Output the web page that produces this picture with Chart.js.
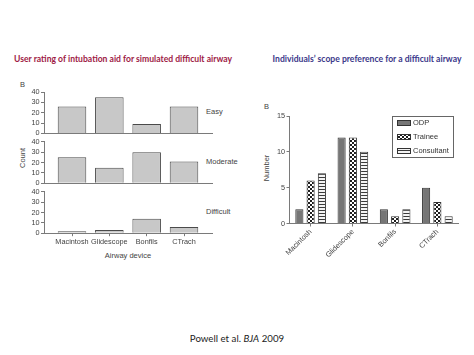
<!DOCTYPE html>
<html><head><meta charset="utf-8">
<script src="https://cdn.jsdelivr.net/npm/chart.js@4.4.0/dist/chart.umd.min.js"></script>
<style>
html,body{margin:0;padding:0;background:#fff;}
body{width:474px;height:355px;position:relative;overflow:hidden;font-family:"Liberation Sans",Arial,sans-serif;}
canvas.layer{position:absolute;left:0;top:0;}
.t{position:absolute;white-space:nowrap;line-height:1;}
.c{transform:translate(-50%,-50%);}
.l{transform:translate(0,-50%);}
.r90{transform:translate(-50%,-50%) rotate(-90deg);}
.title{font-family:Lato,"Open Sans",sans-serif;font-weight:700;font-size:8.6px;}
.ax{font-size:7.5px;color:#444;}
</style></head><body>
<div class="t c title" style="left:123px;top:59px;color:#9e1a45;">User rating of intubation aid for simulated difficult airway</div>
<div class="t c title" style="left:367px;top:59px;color:#3b388a;">Individuals’ scope preference for a difficult airway</div>
<div class="t l ax" style="left:20px;top:85px;">B</div>
<div class="t l ax" style="left:264px;top:107px;">B</div>
<div class="t r90 ax" style="left:23px;top:158px;">Count</div>
<div class="t c ax" style="left:128px;top:256px;">Airway device</div>
<div class="t r90 ax" style="left:267px;top:168px;">Number</div>
<div class="t l ax" id="pl0" style="left:206px;top:112px;"></div>
<div class="t l ax" id="pl1" style="left:206px;top:162px;"></div>
<div class="t l ax" id="pl2" style="left:206px;top:212px;"></div>
<div class="t c" style="left:237px;top:339px;font-family:Lato,sans-serif;font-size:9.7px;color:#222;">Powell et al. <i>BJA</i> 2009</div>
<canvas class="layer" id="p0" width="474" height="355"></canvas>
<canvas class="layer" id="p1" width="474" height="355"></canvas>
<canvas class="layer" id="p2" width="474" height="355"></canvas>
<canvas class="layer" id="pr" width="474" height="355"></canvas>
<script>
const categories = ['Macintosh', 'Glidescope', 'Bonfils', 'CTrach'];
const easyCounts = [26, 35, 9, 26];
const moderateCounts = [25, 15, 30, 21];
const difficultCounts = [2, 3, 14, 6];
const panelLabels = ['Easy', 'Moderate', 'Difficult'];
const countTicks = [0, 10, 20, 30, 40];
const groups = ['ODP', 'Trainee', 'Consultant'];
const odpValues = [2, 12, 2, 5];
const traineeValues = [6, 12, 1, 3];
const consultantValues = [7, 10, 2, 1];
const numberTicks = [0, 5, 10, 15];

panelLabels.forEach((t, i) => { document.getElementById('pl' + i).textContent = t; });

const FONT = 'Liberation Sans';
const AXC = '#7a7a7a';
const TXC = '#444';

function leftPanel(id, values, top, bottom, showLabels) {
  const xh = showLabels ? 14 : 1;
  return new Chart(document.getElementById(id), {
    type: 'bar',
    data: { datasets: [{
      data: values.map((v, i) => ({ x: i, y: v })),
      backgroundColor: '#c8c8c8', borderColor: '#4a4a4a', borderWidth: 1,
      categoryPercentage: 1, barPercentage: 0.765
    }] },
    options: {
      responsive: false, animation: false, events: [],
      layout: { padding: { left: 44 - 30, right: 474 - 212, top: top, bottom: 355 - bottom - xh } },
      plugins: { legend: { display: false }, tooltip: { enabled: false } },
      scales: {
        x: {
          type: 'linear', min: -0.75, max: 3.75, offset: false,
          afterBuildTicks: s => { s.ticks = categories.map((c, i) => ({ value: i })); },
          afterFit: s => { s.height = xh; },
          grid: { display: true, offset: false, drawOnChartArea: false, drawTicks: showLabels, tickLength: 3, color: AXC },
          border: { display: true, color: AXC, width: 1 },
          ticks: { display: showLabels, autoSkip: false, maxRotation: 0, padding: 1.5, color: TXC,
                   font: { family: FONT, size: 7.3 }, callback: v => categories[v] }
        },
        y: {
          min: 0, max: 40,
          afterBuildTicks: s => { s.ticks = countTicks.map(v => ({ value: v })); },
          afterFit: s => { s.width = 30; },
          grid: { drawOnChartArea: false, tickLength: 3, color: AXC },
          border: { display: true, color: AXC, width: 1 },
          ticks: { autoSkip: false, padding: 1.5, color: TXC, font: { family: FONT, size: 7.3 } }
        }
      }
    }
  });
}

leftPanel('p0', easyCounts, 92, 133.4, false);
leftPanel('p1', moderateCounts, 141.8, 183.2, false);
leftPanel('p2', difficultCounts, 191.8, 233.2, true);

function makeTile(w, h, draw) {
  const c = document.createElement('canvas'); c.width = w; c.height = h;
  const x = c.getContext('2d'); draw(x, w, h);
  return document.getElementById('pr').getContext('2d').createPattern(c, 'repeat');
}
const odpFill = '#767676';
const traineeFill = makeTile(4, 4, (x) => {
  x.fillStyle = '#1e1e1e'; x.fillRect(0, 0, 4, 4);
  x.fillStyle = '#ffffff'; x.fillRect(0, 0, 2, 2); x.fillRect(2, 2, 2, 2);
});
const consultantFill = makeTile(3, 3, (x) => {
  x.fillStyle = '#f4f4f4'; x.fillRect(0, 0, 3, 3);
  x.fillStyle = '#3a3a3a'; x.fillRect(0, 0, 3, 1);
});
const fills = [odpFill, traineeFill, consultantFill];

const legendBox = {
  id: 'legendBox',
  afterDraw(chart) {
    const { ctx, chartArea: a } = chart;
    const w = 61, h = 41;
    const x = Math.round(a.right - 6 - w) + 0.5, y = Math.round(a.top) + 0.5;
    ctx.save();
    ctx.strokeStyle = '#666'; ctx.lineWidth = 1;
    ctx.strokeRect(x, y, w, h);
    chart.data.datasets.forEach((ds, i) => {
      const cy = y + 6.5 + 14 * i;
      ctx.fillStyle = ds.backgroundColor;
      ctx.fillRect(x + 5, cy - 2.5, 13, 5);
      ctx.strokeStyle = '#333';
      ctx.strokeRect(x + 5, cy - 2.5, 13, 5);
      ctx.fillStyle = '#333';
      ctx.font = '7.5px "' + FONT + '"';
      ctx.textBaseline = 'middle';
      ctx.fillText(ds.label, x + 20.5, cy);
    });
    ctx.restore();
  }
};

new Chart(document.getElementById('pr'), {
  type: 'bar',
  data: {
    labels: categories,
    datasets: [odpValues, traineeValues, consultantValues].map((vals, i) => ({
      label: groups[i], data: vals, backgroundColor: fills[i],
      borderColor: '#333', borderWidth: 1, categoryPercentage: 0.8, barPercentage: 0.72
    }))
  },
  options: {
    responsive: false, animation: false, events: [],
    layout: { padding: { left: 289.5 - 20, right: 474 - 458.5, top: 116, bottom: 355 - 223.5 - 40 } },
    plugins: { legend: { display: false }, tooltip: { enabled: false } },
    scales: {
      x: {
        offset: true,
        afterFit: s => { s.height = 40; },
        grid: { offset: false, drawOnChartArea: false, tickLength: 3, color: AXC },
        border: { display: true, color: AXC, width: 1 },
        ticks: { minRotation: 45, maxRotation: 45, autoSkip: false, padding: 1, color: TXC,
                 font: { family: FONT, size: 7.3 } }
      },
      y: {
        min: 0, max: 15,
        afterBuildTicks: s => { s.ticks = numberTicks.map(v => ({ value: v })); },
        afterFit: s => { s.width = 20; },
        grid: { drawOnChartArea: false, tickLength: 3, color: AXC },
        border: { display: true, color: AXC, width: 1 },
        ticks: { autoSkip: false, padding: 1.5, color: TXC, font: { family: FONT, size: 7.3 } }
      }
    }
  },
  plugins: [legendBox]
});
</script>
</body></html>
